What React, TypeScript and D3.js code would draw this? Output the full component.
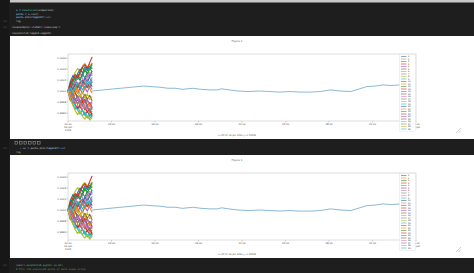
import * as d3 from "d3";

// time axis: one day, ticks every 3 hours
const dayStart = Date.UTC(2023, 0, 16);
const dayEnd = Date.UTC(2023, 0, 17);
const tickHours = [0, 3, 6, 9, 12, 15, 18, 21, 24];
const tickLabels = [
  ["00:00", "16-Jan", "2023"],
  ["03:00"],
  ["06:00"],
  ["09:00"],
  ["12:00"],
  ["15:00"],
  ["18:00"],
  ["21:00"],
  ["00:00", "17-Jan"],
];
const yTicks = [1.0006, 1.0004, 1.0002, 1.0, 0.9998, 0.9996];

// simulated paths, sampled every 10 minutes, offsets in units of 1e-4 from 1.0
const pathMinutes = [0, 10, 20, 30, 40, 50, 60, 70, 80, 90, 100];
const pathOffsets: number[][] = [
  [0, 1.2, 0.6, 1.8, 2.5, 1.9, 3.0, 2.4, 3.3, 2.8, 3.6],
  [0, -1.1, -2.0, -1.4, -2.6, -3.1, -2.4, -3.5, -2.9, -4.1, -3.6],
  [0, 0.8, 1.9, 2.7, 2.1, 3.4, 4.2, 3.6, 4.5, 3.9, 4.8],
  [0, -0.6, 0.5, -0.3, -1.4, -0.8, -2.0, -1.5, -2.7, -2.1, -3.0],
  [0, 1.5, 0.9, 0.2, 1.1, 0.4, -0.5, 0.6, -0.2, 0.9, 0.3],
  [0, -1.6, -0.9, -2.2, -1.5, -2.8, -3.6, -4.3, -3.7, -4.6, -4.0],
  [0, 0.4, -0.7, 0.3, 1.3, 0.7, 1.8, 1.1, 2.2, 1.6, 2.5],
  [0, -0.9, 0.2, 1.2, 0.5, 1.6, 0.9, 2.1, 2.9, 2.3, 1.5],
  [0, 1.9, 2.6, 3.4, 4.1, 3.5, 4.6, 5.0, 4.3, 4.9, 4.2],
  [0, -1.3, -2.4, -3.3, -2.7, -3.9, -4.5, -3.8, -4.7, -5.0, -4.4],
  [0, 0.7, 1.4, 0.6, -0.4, 0.5, 1.5, 2.3, 1.7, 2.6, 3.2],
  [0, -0.3, -1.3, -0.6, 0.4, -0.5, -1.6, -0.9, -1.9, -2.8, -2.2],
  [0, 1.1, 2.1, 1.5, 2.6, 3.3, 2.7, 3.8, 3.1, 4.0, 5.1],
  [0, -1.8, -1.2, -2.5, -3.2, -2.6, -1.8, -2.9, -3.8, -3.2, -4.5],
  [0, 0.2, 1.0, 1.9, 1.2, 0.3, 1.2, 0.5, 1.4, 0.7, 1.7],
  [0, -0.5, 0.6, -0.4, -1.2, -2.1, -1.4, -0.6, -1.5, -0.8, -1.8],
  [0, 1.4, 0.5, 1.6, 2.4, 3.1, 2.3, 1.6, 2.5, 3.4, 2.8],
  [0, -1.4, -2.3, -1.6, -0.8, -1.9, -2.7, -3.4, -2.6, -3.5, -2.9],
  [0, 0.9, -0.1, 0.8, -0.3, -1.1, -0.2, -1.3, -0.5, -1.6, -1.0],
  [0, -0.8, -1.7, -2.8, -3.5, -4.2, -3.4, -4.4, -4.9, -4.2, -4.8],
  [0, 1.7, 2.8, 2.0, 3.2, 4.0, 3.3, 4.4, 3.7, 4.5, 4.0],
  [0, -0.2, -1.0, -0.1, 0.8, 1.7, 1.0, 0.2, 1.1, 0.4, -0.4],
  [0, 0.5, 1.6, 2.4, 3.0, 2.2, 3.1, 3.9, 3.2, 4.1, 3.5],
  [0, 1.3, 2.2, 3.0, 2.4, 3.5, 4.3, 4.8, 4.1, 5.2, 6.2],
  [0, 0.3, -0.8, -1.8, -1.0, -2.0, -1.2, -2.2, -1.6, -2.4, -1.9],
  [0, 1.0, 0.3, 1.3, 0.6, 1.5, 2.0, 1.3, 0.6, 1.5, 0.8],
  [0, -0.7, -1.5, -2.1, -1.3, -2.4, -3.3, -2.5, -3.3, -2.7, -3.4],
  [0, -1.2, -0.4, -1.5, -2.3, -1.7, -2.5, -1.8, -3.0, -3.7, -3.1],
  [0, -1.5, -2.6, -3.6, -4.3, -3.6, -4.6, -5.1, -4.4, -5.3, -4.8],
  [0, 0.6, -0.3, 0.7, 1.6, 1.0, 0.2, 0.9, 1.8, 1.2, 2.1],
];
const seriesLabels = [
  "0", "1", "2", "3", "4", "5", "6", "7", "8", "9",
  "10", "11", "12", "13", "14", "15", "16", "17", "18", "19",
  "20", "21", "22", "23", "24", "25", "26", "27", "28", "29",
];

// long running series
const trendHours = [
  1.67, 5.2, 5.7, 6.3, 6.9, 7.4, 7.9, 8.6, 9.2, 9.8, 10.3, 10.6, 11.1, 11.7,
  12.5, 13.2, 13.9, 14.6, 15.3, 16.0, 16.7, 17.4, 18.1, 18.8, 19.5, 20.0,
  20.6, 21.2, 21.7, 22.3, 22.9,
];
const trendValues = [
  1.0, 1.00009, 1.00008, 1.00007, 1.00005, 1.00005, 1.00003, 1.00005, 1.00003,
  1.00002, 1.00002, 1.00004, 1.00002, 1.0, 0.99999, 1.0, 0.99999, 0.99998,
  0.99999, 0.99998, 0.99998, 0.99999, 1.00002, 1.0, 0.99999, 1.00003, 1.00008,
  1.00009, 1.00011, 1.0001, 1.00011,
];

const colors = d3.schemeCategory10;
const mono = "DejaVu Sans Mono, monospace";
const sans = "DejaVu Sans, sans-serif";

function Figure({ top }: { top: number }) {
  const left = 68;
  const right = 416;
  const axTop = top + 18;
  const axBottom = top + 85;

  const x = d3.scaleUtc().domain([dayStart, dayEnd]).range([left, right]);
  const y = d3
    .scaleLinear()
    .domain([0.99945455, 1.00067273])
    .range([axBottom, axTop]);

  const pathLine = d3
    .line<number>()
    .x((_, i) => x(dayStart + pathMinutes[i] * 60000))
    .y((d) => y(1 + d * 1e-4));

  const trendLine = d3
    .line<number>()
    .x((_, i) => x(dayStart + trendHours[i] * 3600000))
    .y((d) => y(d));

  const legendTop = axTop + 1.5;
  const rowH = 2.5;

  return (
    <g>
      <rect x={10} y={top} width={464} height={103} fill="#fff" />
      <text x={237} y={top + 5.5} fontSize={2.8} fontFamily={sans} fill="#666" textAnchor="middle">
        Figure 1
      </text>

      <path d={trendLine(trendValues) ?? ""} fill="none" stroke={colors[0]} strokeWidth={0.7} opacity={0.75} />
      {pathOffsets.map((p, i) => (
        <path key={i} d={pathLine(p) ?? ""} fill="none" stroke={colors[i % 10]} strokeWidth={1.1} strokeLinejoin="round" />
      ))}

      <rect x={left} y={axTop} width={right - left} height={axBottom - axTop} fill="none" stroke="#bbb" strokeWidth={0.5} />

      {yTicks.map((t) => (
        <g key={t}>
          <line x1={left - 1.5} x2={left} y1={y(t)} y2={y(t)} stroke="#888" strokeWidth={0.4} />
          <text x={left - 2} y={y(t) + 1} fontSize={2.5} fontFamily={sans} fill="#444" textAnchor="end">
            {t.toFixed(4)}
          </text>
        </g>
      ))}

      {tickHours.map((h, i) => {
        const tx = x(dayStart + h * 3600000);
        return (
          <g key={h}>
            <line x1={tx} x2={tx} y1={axBottom} y2={axBottom + 1.5} stroke="#888" strokeWidth={0.4} />
            {tickLabels[i].map((s, j) => (
              <text key={j} x={tx} y={axBottom + 4 + j * 3} fontSize={2.5} fontFamily={sans} fill="#444" textAnchor="middle">
                {s}
              </text>
            ))}
          </g>
        );
      })}

      <rect x={399.5} y={axTop + 0.5} width={16} height={seriesLabels.length * rowH + 2} fill="#fff" fillOpacity={0.85} stroke="#ddd" strokeWidth={0.4} />
      {seriesLabels.map((s, i) => {
        const ly = legendTop + 1 + i * rowH;
        return (
          <g key={s}>
            <line x1={401} x2={406.5} y1={ly} y2={ly} stroke={colors[i % 10]} strokeWidth={0.6} />
            <text x={408} y={ly + 0.8} fontSize={2.1} fontFamily={sans} fill="#333">
              {s}
            </text>
          </g>
        );
      })}

      <text x={237} y={top + 99.5} fontSize={2.3} fontFamily={sans} fill="#555" textAnchor="middle">
        x=00:54 16-Jan 2023 y=1.00009
      </text>
      <g stroke="#999" strokeWidth={0.5}>
        <line x1={456} y1={top + 97} x2={461} y2={top + 92} />
        <line x1={458.5} y1={top + 97} x2={461} y2={top + 94.5} />
      </g>
    </g>
  );
}

function CodeLine({ x, y, parts }: { x: number; y: number; parts: [string, string][] }) {
  return (
    <text x={x} y={y} fontSize={2.5} fontFamily={mono}>
      {parts.map(([s, c], i) => (
        <tspan key={i} fill={c}>
          {s}
        </tspan>
      ))}
    </text>
  );
}

export default function App() {
  const toolbar = [15, 19.5, 24, 28.5, 33, 37.5];
  return (
    <div style={{ position: "fixed", left: 0, top: 0 }}>
      <svg width={474} height={273} style={{ display: "block" }}>
        <rect width={474} height={273} fill="#1e1e1e" />
        <rect width={9} height={273} fill="#171717" />
        <rect x={10} y={0} width={464} height={2.5} fill="#c8c8c8" />

        <CodeLine x={16} y={11} parts={[["s", "#9cdcfe"], [" = ", "#d4d4d4"], ["Simulation", "#4ec9b0"], ["(steps=", "#d4d4d4"], ["100", "#b5cea8"], [")", "#d4d4d4"]]} />
        <CodeLine x={16} y={14.5} parts={[["paths", "#9cdcfe"], [" = s.run()", "#d4d4d4"]]} />
        <CodeLine x={16} y={18} parts={[["paths", "#9cdcfe"], [".plot(", "#d4d4d4"], ["legend", "#9cdcfe"], ["=", "#d4d4d4"], ["True", "#569cd6"], [")", "#d4d4d4"]]} />
        <CodeLine x={16} y={21.5} parts={[["fig", "#d4d4d4"]]} />
        <text x={3} y={22} fontSize={2.2} fontFamily={mono} fill="#777">[1]</text>
        <CodeLine x={12} y={28} parts={[["<AxesSubplot:xlabel='timestamp'>", "#cccccc"]]} />
        <CodeLine x={12} y={34} parts={[["<matplotlib.legend.Legend>", "#cccccc"]]} />
        <text x={3} y={28} fontSize={2.2} fontFamily={mono} fill="#777">[1]</text>

        <Figure top={36} />

        {toolbar.map((tx) => (
          <rect key={tx} x={tx} y={141.5} width={2.6} height={2.6} fill="none" stroke="#aaa" strokeWidth={0.5} />
        ))}
        <CodeLine x={20} y={148.5} parts={[["\u25b8 ", "#aaa"], ["ax", "#9cdcfe"], [" = paths.plot(", "#d4d4d4"], ["legend", "#9cdcfe"], ["=", "#d4d4d4"], ["True", "#569cd6"], [")", "#d4d4d4"]]} />
        <CodeLine x={16} y={152.5} parts={[["fig", "#d4d4d4"]]} />
        <text x={3} y={149} fontSize={2.2} fontFamily={mono} fill="#777">[2]</text>

        <Figure top={155} />

        <CodeLine x={16} y={265.5} parts={[["import", "#c586c0"], [" matplotlib.pyplot ", "#4ec9b0"], ["as", "#c586c0"], [" plt", "#4ec9b0"]]} />
        <CodeLine x={16} y={269.5} parts={[["# Plot the simulated paths of each asset price", "#6a9955"]]} />
        <text x={3} y={266} fontSize={2.2} fontFamily={mono} fill="#777">[3]</text>
      </svg>
    </div>
  );
}
